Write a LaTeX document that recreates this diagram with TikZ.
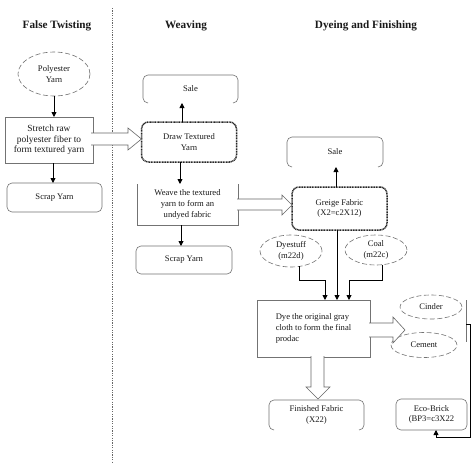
\documentclass[tikz,border=0pt]{standalone}
\usepackage{fontspec}
\setmainfont{Liberation Serif}
\usetikzlibrary{arrows.meta,calc,shapes.geometric}
\newcommand\drawopenbottom[1]{\draw[boxline,rounded corners=5pt] ($(#1.south west)+(5,0)$) -- (#1.south west) -- (#1.north west) -- (#1.north east) -- (#1.south east) -- ($(#1.south east)+(-5,0)$);}
\begin{document}
\begin{tikzpicture}[x=1pt,y=-1pt,
  every node/.style={inner sep=0pt,outer sep=0pt,text=black!90},
  title/.style={font=\fontsize{11.2}{13}\selectfont\bfseries},
  big/.style={font=\fontsize{9.4}{10.6}\selectfont,align=center},
  small/.style={font=\fontsize{8.6}{10.6}\selectfont,align=center},
  boxline/.style={draw=black!55,line width=0.6pt},
  plainbox/.style={rectangle,boxline},
  roundbox/.style={rectangle,boxline,rounded corners=5pt},
  dotbox/.style={rectangle,draw=black!85,line width=1.5pt,dash pattern=on 1pt off 0.6pt,rounded corners=7pt},
  dashell/.style={ellipse,draw=black!55,line width=0.6pt,dash pattern=on 5pt off 2.5pt},
  arr/.style={draw=black,line width=0.9pt,-{Triangle[length=5pt,width=5pt]}},
  hollow/.style={draw=black!60,line width=0.6pt,fill=white}]
\useasboundingbox[fill=white] (0,0) rectangle (474,474);

% divider
\draw[black!60,line width=1pt,dash pattern=on 1.2pt off 1.2pt] (112,8) -- (112,462);

% titles
\node[title] (t1) at (57,26) {False Twisting};
\node[title] (t2) at (186,26) {Weaving};
\node[title] (t3) at (366,26) {Dyeing and Finishing};

% false twisting
\node[dashell,small,minimum width=72pt,minimum height=44pt] (poly) at (54,74) {Polyester\\Yarn};
\node[plainbox,big,minimum width=88pt,minimum height=46pt] (stretch) at (49,140) {Stretch raw\\polyester fiber to\\form textured yarn};
\node[roundbox,small,minimum width=95pt,minimum height=29pt] (scrap1) at (54.5,197.5) {Scrap Yarn};

% weaving
\node[small,minimum width=95pt,minimum height=28pt] (sale1) at (190.5,89) {Sale};
\drawopenbottom{sale1}
\node[dotbox,small,minimum width=95pt,minimum height=40pt] (draw) at (189,142) {Draw Textured\\Yarn};
\node[small,minimum width=101pt,minimum height=41pt] (weave) at (187.5,204.5) {Weave the textured\\yarn to form an\\undyed fabric};
\draw[boxline] (weave.north west) -- (weave.south west) -- (weave.south east) -- (weave.north east);
\node[roundbox,small,minimum width=96pt,minimum height=28pt] (scrap2) at (184,260) {Scrap Yarn};

% dyeing and finishing
\node[small,minimum width=96pt,minimum height=30pt] (sale2) at (335,152) {Sale};
\drawopenbottom{sale2}
\node[dotbox,small,minimum width=95pt,minimum height=43pt] (greige) at (339.5,208.5) {Greige Fabric\\(X2=c2X12)};
\node[dashell,small,minimum width=62pt,minimum height=32pt] (dyestuff) at (291,251) {Dyestuff\\(m22d)};
\node[dashell,small,minimum width=62pt,minimum height=30pt] (coal) at (376,250) {Coal\\(m22c)};
\node[plainbox,small,align=left,minimum width=113pt,minimum height=57pt] (dye) at (313.5,328.5) {Dye the original gray\\cloth to form the final\\prodac};
\node[dashell,small,minimum width=62pt,minimum height=24pt] (cinder) at (431,307) {Cinder};
\node[dashell,small,minimum width=66pt,minimum height=25pt] (cement) at (424,345) {Cement};
\node[small,minimum width=95pt,minimum height=30pt] (finished) at (316.5,415) {Finished Fabric\\(X22)};
\drawopenbottom{finished}
\node[roundbox,small,minimum width=71pt,minimum height=31pt] (eco) at (431.5,414.5) {Eco-Brick\\(BP3=c3X22};

% hollow arrows
\draw[hollow] (91,133) -- (128,133) -- (128,128) -- (draw.west |- 0,139) -- (128,150) -- (128,145) -- (91,145);
\draw[hollow] (237,199) -- (282,199) -- (282,195) -- (greige.west |- 0,205) -- (282,215) -- (282,210) -- (237,210);
\draw[hollow] (369,323) -- (393,323) -- (393,317) -- (405,330) -- (393,343) -- (393,337) -- (369,337);
\draw[hollow] (311,356) -- (311,387) -- (306,387) -- (318,399) -- (330,387) -- (324,387) -- (324,356);

% arrows
\draw[arr] (poly.south) -- (poly.south |- stretch.north);
\draw[arr] ([xshift=-1.5pt]scrap1.north |- stretch.south) -- ([xshift=-1.5pt]scrap1.north);
\draw[arr] ([xshift=-7pt]draw.north) -- ([xshift=-7pt]draw.north |- sale1.south);
\draw[arr] ([xshift=-9pt]draw.south) -- ([xshift=-9pt]draw.south |- weave.north);
\draw[arr] ([xshift=-3pt]scrap2.north |- weave.south) -- ([xshift=-3pt]scrap2.north);
\draw[arr] ([xshift=-3.5pt]greige.north) -- ([xshift=-3.5pt]greige.north |- sale2.south);
\coordinate (dj) at (325,280);
\coordinate (cj) at (349,280);
\draw[arr] (dyestuff.-60) |- (dj) -- (dj |- dye.north);
\draw[arr] ([xshift=-2.5pt]greige.south) -- ([xshift=-2.5pt]greige.south |- dye.north);
\draw[arr] (coal.-68) |- (cj) -- (cj |- dye.north);

% cinder/cement to eco-brick
\coordinate (bt) at (466,300);
\coordinate (bb) at (466,342);
\coordinate (bm) at (466,324);
\coordinate (br) at (470,437);
\draw[boxline] (bt) -- (bb);
\draw[arr,line width=0.8pt] (bm) -- (bm -| br) -- (br) -- ([xshift=4.5pt]eco.south |- br) -- ([xshift=4.5pt]eco.south);
\end{tikzpicture}
\end{document}
